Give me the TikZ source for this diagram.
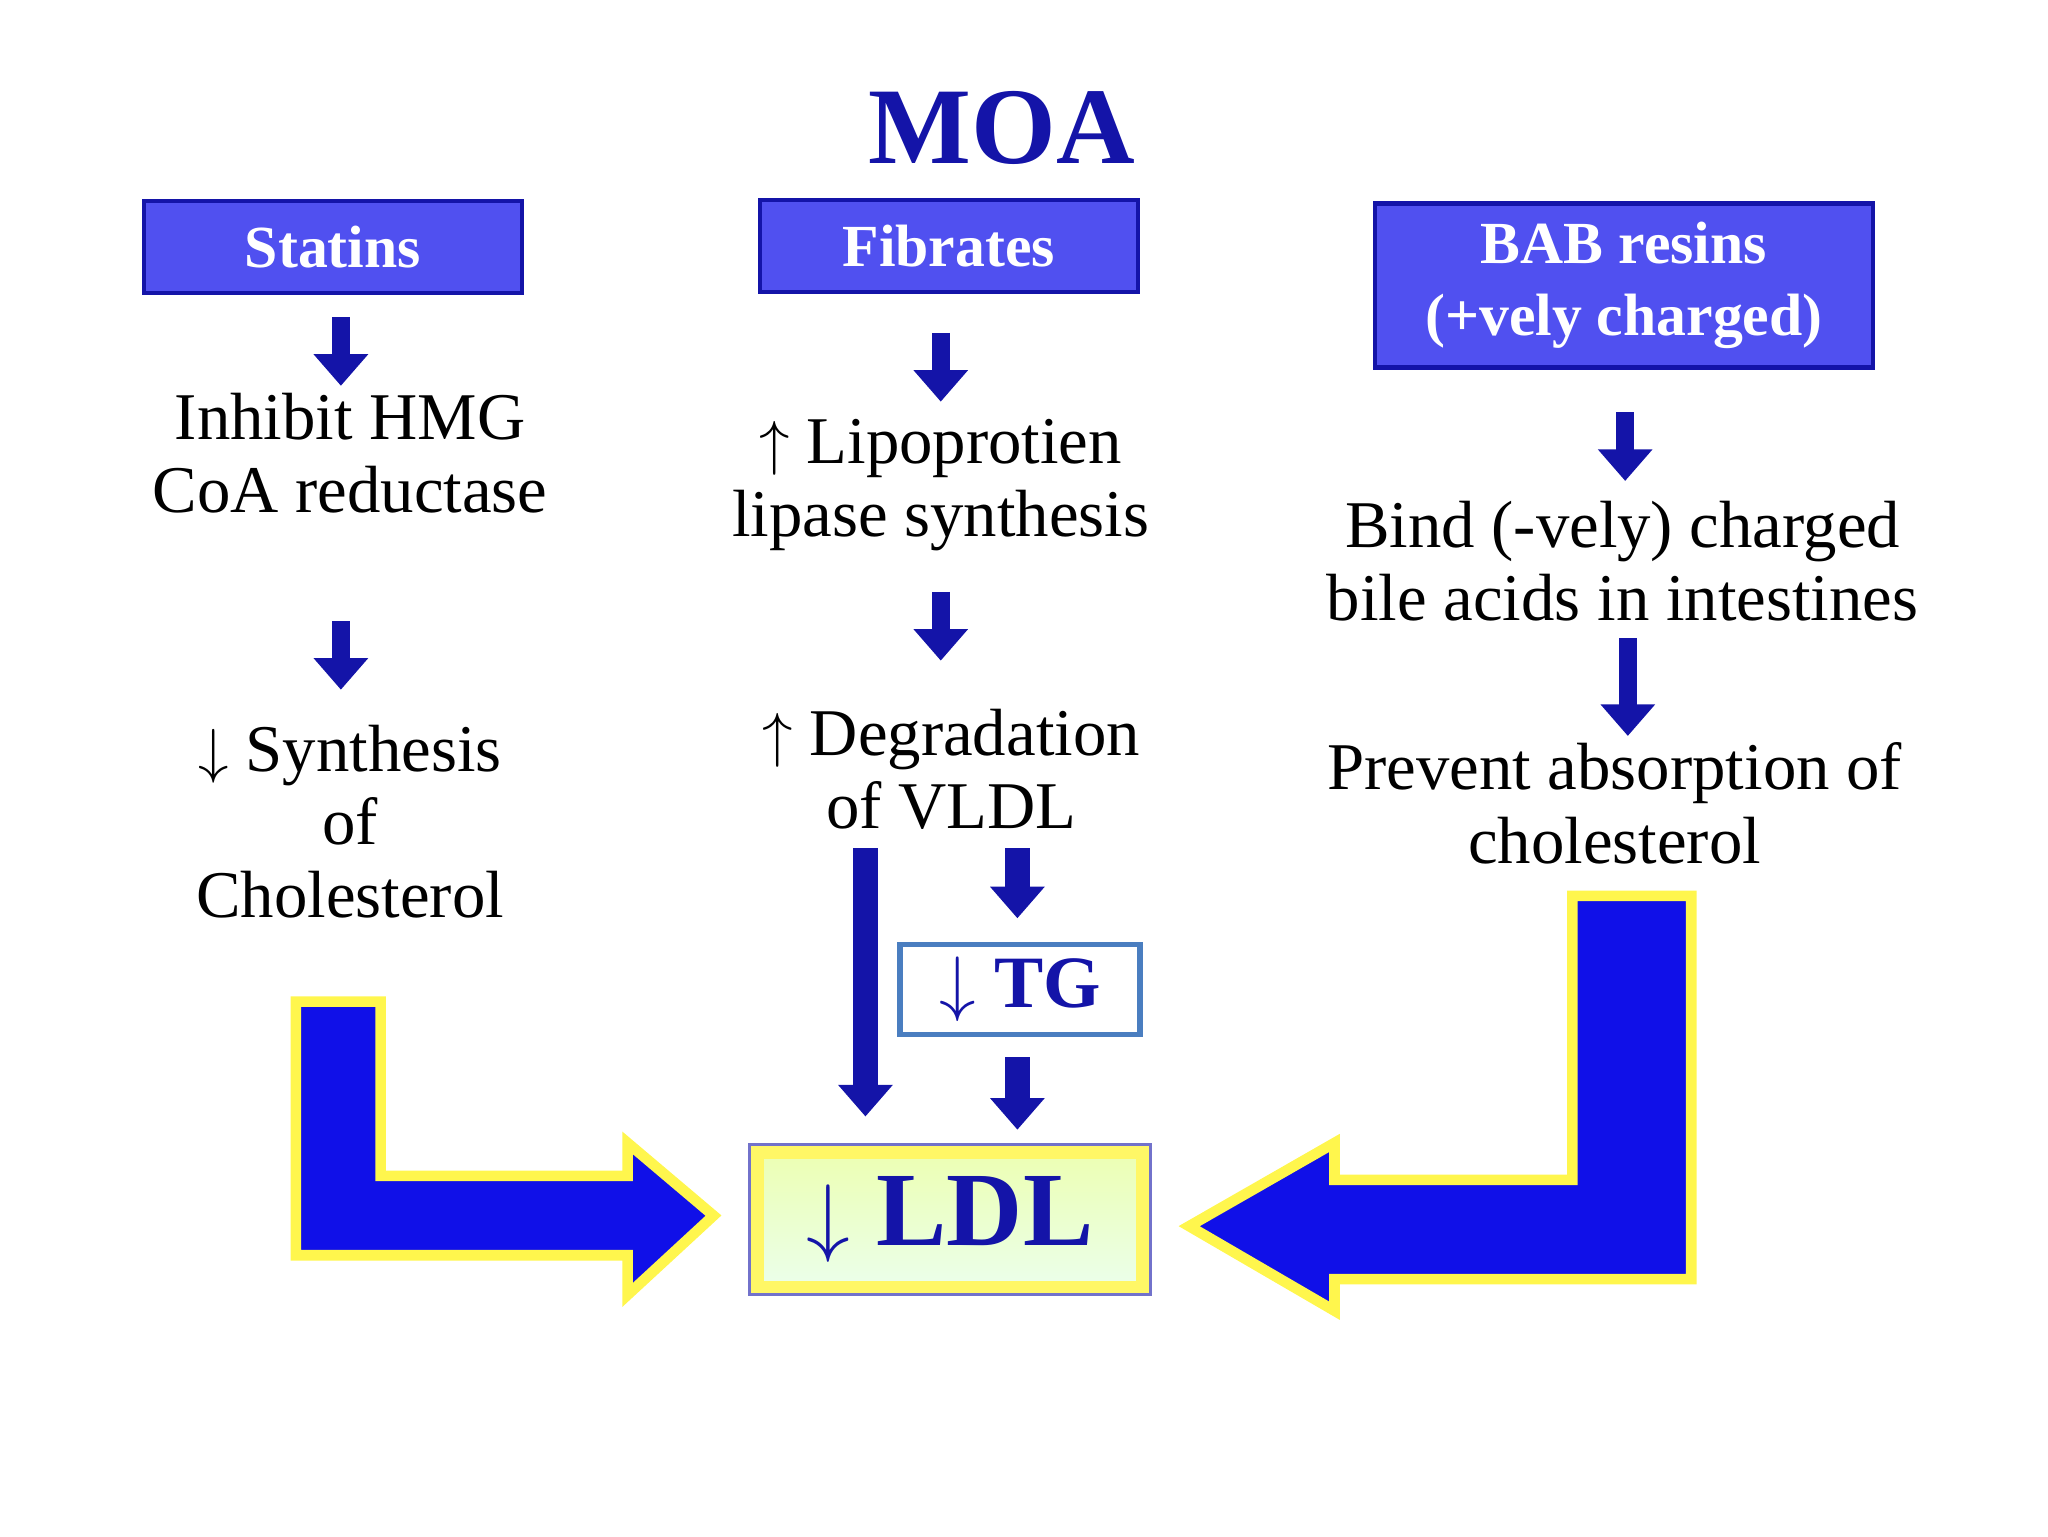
\documentclass[tikz,border=0pt]{standalone}
\usepackage{fontspec}
\setmainfont{Liberation Serif}
\usetikzlibrary{positioning,arrows.meta}
\definecolor{boxblue}{HTML}{5050F0}
\definecolor{navy}{HTML}{1414A8}
\definecolor{bigblue}{HTML}{1010E8}
\definecolor{tgedge}{HTML}{4A7EC0}
\begin{document}
\begin{tikzpicture}[
    x=0.01321cm, y=-0.01321cm,
    head/.style={rectangle, draw=navy, line width=1.2pt, fill=boxblue, text=white,
      font=\fontsize{17}{20.5}\selectfont\bfseries, align=center},
    txt/.style={font=\fontsize{19}{20.8}\selectfont, align=center, inner sep=0pt},
    flow/.style={-{Triangle[length=9pt,width=15pt]}, line width=5pt, navy},
    big/.style={fill=bigblue, draw=yellow!70, line width=3pt, line join=miter}
]
\useasboundingbox (0,0) rectangle (1550,1163);
% === title ===
\node[font=\fontsize{31}{31}\selectfont\bfseries, text=navy] (moa) at (758,97) {MOA};

% === heading boxes ===
\node[head, minimum width=3.78cm, minimum height=0.92cm] (statins) at (252,187) {Statins};
\node[head, minimum width=3.78cm, minimum height=0.92cm] (fibrates) at (718,186) {Fibrates};
\node[head, minimum width=4.98cm, minimum height=1.64cm] (bab) at (1229,216) {BAB resins\\(+vely charged)};

% === Statins column ===
\node[txt] (hmg) at (265,343) {Inhibit HMG\\CoA reductase};
\node[txt] (chol) at (265,622) {$\downarrow$ Synthesis\\of\\Cholesterol};
\coordinate (s1a) at (258,240); \coordinate (s1b) at (258,292);
\coordinate (s2a) at (258,470); \coordinate (s2b) at (258,522);
\draw[flow] (s1a) -- (s1b);
\draw[flow] (s2a) -- (s2b);

% === Fibrates column ===
\node[txt] (lpl) at (712,367) {$\uparrow$ Lipoprotien\\lipase synthesis};
\node[txt] (vldl) at (720,582) {$\uparrow$ Degradation\\of VLDL};
\node[rectangle, draw=tgedge, line width=1.5pt, fill=white, minimum width=2.4cm,
  minimum height=0.9cm, text=navy, font=\fontsize{21}{21}\selectfont\bfseries] (tg) at (772,749) {$\downarrow$ TG};
\coordinate (f1a) at (712,252); \coordinate (f1b) at (712,304);
\coordinate (f2a) at (712,448); \coordinate (f2b) at (712,500);
\coordinate (f3a) at (655,642); \coordinate (f3b) at (655,845);
\coordinate (f4a) at (770,642); \coordinate (f4b) at (770,695);
\coordinate (f5a) at (770,800); \coordinate (f5b) at (770,855);
\draw[flow] (f1a) -- (f1b);
\draw[flow] (f2a) -- (f2b);
\draw[flow, line width=7pt] (f3a) -- (f3b);
\draw[flow, line width=7pt] (f4a) -- (f4b);
\draw[flow, line width=7pt] (f5a) -- (f5b);

% === BAB column ===
\node[txt] (bind) at (1228,425) {Bind (-vely) charged\\bile acids in intestines};
\node[txt] (absorb) at (1222,608) {Prevent absorption of\\cholesterol};
\coordinate (b1a) at (1230,312); \coordinate (b1b) at (1230,364);
\coordinate (b2a) at (1232,483); \coordinate (b2b) at (1232,557);
\draw[flow] (b1a) -- (b1b);
\draw[flow] (b2a) -- (b2b);

% === result ===
\node[rectangle, draw=yellow!60, line width=4pt, top color=green!25!yellow!30, bottom color=green!8,
  minimum width=3.87cm, minimum height=1.36cm, text=navy,
  font=\fontsize{30}{30}\selectfont\bfseries] (ldl) at (719,923) {$\downarrow$ LDL};
\draw[navy!60, line width=0.8pt] (ldl.south west) rectangle (ldl.north east);

% big L arrows
\draw[big] (224,758) -- (288,758) -- (288,890) -- (475,890) -- (475,865)
  -- (540,920) -- (475,980) -- (475,950) -- (224,950) -- cycle;
\draw[big] (1190,678) -- (1280,678) -- (1280,968) -- (1010,968) -- (1010,992)
  -- (900,928) -- (1010,865) -- (1010,893) -- (1190,893) -- cycle;
\end{tikzpicture}
\end{document}
